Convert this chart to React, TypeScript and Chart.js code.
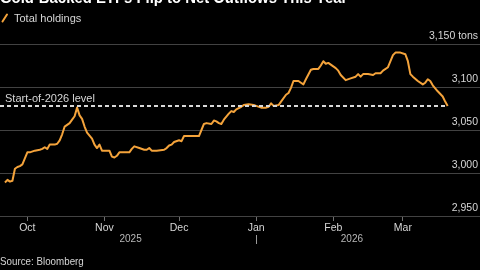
import React, { useEffect, useRef } from "react";
import { Chart, registerables } from "chart.js";

Chart.register(...registerables);

const TITLE = "Gold-Backed ETFs Flip to Net Outflows This Year";
const SERIES_LABEL = "Total holdings";
const SOURCE = "Source: Bloomberg";
const LEVEL_LABEL = "Start-of-2026 level";
const START_LEVEL = 3078;
const Y_UNIT = "tons";

const DATES = [
  "2025-09-22", "2025-09-23", "2025-09-24", "2025-09-25", "2025-09-26", "2025-09-27", "2025-09-28", "2025-09-29", "2025-09-30",
  "2025-10-01", "2025-10-02", "2025-10-04", "2025-10-06", "2025-10-07", "2025-10-08", "2025-10-09", "2025-10-10", "2025-10-12",
  "2025-10-13", "2025-10-14", "2025-10-15", "2025-10-16", "2025-10-18", "2025-10-19", "2025-10-20", "2025-10-21", "2025-10-22",
  "2025-10-23", "2025-10-24", "2025-10-25", "2025-10-27", "2025-10-28", "2025-10-29", "2025-10-30", "2025-10-31",
  "2025-11-01", "2025-11-03", "2025-11-04", "2025-11-05", "2025-11-06", "2025-11-07", "2025-11-09", "2025-11-11", "2025-11-12",
  "2025-11-13", "2025-11-15", "2025-11-17", "2025-11-18", "2025-11-19", "2025-11-20", "2025-11-22", "2025-11-25", "2025-11-26",
  "2025-11-27", "2025-11-28", "2025-11-29",
  "2025-12-01", "2025-12-02", "2025-12-03", "2025-12-05", "2025-12-07", "2025-12-09", "2025-12-10", "2025-12-11", "2025-12-12",
  "2025-12-14", "2025-12-15", "2025-12-16", "2025-12-17", "2025-12-18", "2025-12-19", "2025-12-21", "2025-12-22", "2025-12-23",
  "2025-12-24", "2025-12-26", "2025-12-27", "2025-12-29", "2025-12-31",
  "2026-01-01", "2026-01-03", "2026-01-05", "2026-01-06", "2026-01-07", "2026-01-08", "2026-01-10", "2026-01-11", "2026-01-13",
  "2026-01-14", "2026-01-15", "2026-01-16", "2026-01-18", "2026-01-19", "2026-01-20", "2026-01-21", "2026-01-23", "2026-01-24",
  "2026-01-26", "2026-01-27", "2026-01-28", "2026-01-29", "2026-01-30", "2026-01-31",
  "2026-02-02", "2026-02-03", "2026-02-04", "2026-02-06", "2026-02-08", "2026-02-10", "2026-02-11", "2026-02-12", "2026-02-13",
  "2026-02-15", "2026-02-17", "2026-02-18", "2026-02-20", "2026-02-21", "2026-02-23", "2026-02-24", "2026-02-25", "2026-02-26",
  "2026-02-28",
  "2026-03-02", "2026-03-03", "2026-03-04", "2026-03-05", "2026-03-07", "2026-03-09", "2026-03-10", "2026-03-11", "2026-03-12",
  "2026-03-13", "2026-03-15", "2026-03-17", "2026-03-18", "2026-03-19",
];

const HOLDINGS = [
  2989, 2992, 2990, 2991, 3005, 3007, 3008, 3010, 3017,
  3024, 3024, 3026, 3027, 3028, 3030, 3028, 3033, 3033,
  3034, 3038, 3045, 3054, 3058, 3062, 3066, 3076, 3067,
  3063, 3054, 3047, 3040, 3033, 3029, 3033, 3026,
  3026, 3026, 3019, 3018, 3020, 3024, 3024, 3024, 3028,
  3031, 3029, 3027, 3027, 3029, 3026, 3026, 3027, 3029,
  3032, 3033, 3036,
  3038, 3037, 3043, 3043, 3043, 3043, 3050, 3057, 3058,
  3057, 3061, 3060, 3058, 3057, 3062, 3069, 3072, 3071,
  3074, 3077, 3079, 3080, 3079,
  3078, 3076, 3076, 3077, 3081, 3078, 3079, 3083, 3091,
  3093, 3099, 3107, 3107, 3105, 3103, 3109, 3120, 3121,
  3121, 3125, 3130, 3127, 3128, 3126,
  3122, 3119, 3114, 3108, 3110, 3112, 3115, 3112, 3115,
  3115, 3114, 3116, 3116, 3119, 3123, 3130, 3137, 3140,
  3140,
  3138, 3130, 3115, 3112, 3107, 3103, 3105, 3109, 3107,
  3102, 3095, 3089, 3083, 3078,
];

const MONTH_TICKS = ["2025-10-01", "2025-11-01", "2025-12-01", "2026-01-01", "2026-02-01", "2026-03-01"];
const MONTH_LABELS = ["Oct", "Nov", "Dec", "Jan", "Feb", "Mar"];
const YEAR_LABELS = ["2025", "2026"];
const YEAR_BREAK = "2026-01-01";
const X_RANGE = ["2025-09-20", "2026-04-01"];
const Y_TICKS = [2950, 3000, 3050, 3100, 3150];
const Y_RANGE = [2950, 3175];

const ORANGE = "#f4a33b";
const GRID = "#424242";
const TEXT = "#d6d6d6";
const FONT = "'Liberation Sans', Arial, sans-serif";

const EPOCH = Date.UTC(2025, 9, 1);
function dayOf(s: string): number {
  const [y, m, d] = s.split("-").map(Number);
  return (Date.UTC(y, m - 1, d) - EPOCH) / 86400000;
}

function narrowText(ctx: CanvasRenderingContext2D, text: string, x: number, y: number, sx: number) {
  ctx.save();
  ctx.translate(x, y);
  ctx.scale(sx, 1);
  ctx.fillText(text, 0, 0);
  ctx.restore();
}

const overlayPlugin = {
  id: "overlay",
  afterDraw(chart: any) {
    const ctx = chart.ctx as CanvasRenderingContext2D;
    const xs = chart.scales.x;
    const ys = chart.scales.y;
    ctx.save();
    ctx.textAlign = "left";
    ctx.textBaseline = "alphabetic";

    // Title (clipped at the top, as in the reference)
    ctx.fillStyle = "#ffffff";
    ctx.font = `bold 16px ${FONT}`;
    narrowText(ctx, TITLE, 0, 3, 0.93);

    // Legend
    ctx.strokeStyle = ORANGE;
    ctx.lineWidth = 2;
    ctx.lineCap = "round";
    ctx.beginPath();
    ctx.moveTo(2.5, 21.5);
    ctx.lineTo(7, 14.5);
    ctx.stroke();
    ctx.fillStyle = TEXT;
    ctx.font = `11px ${FONT}`;
    ctx.fillText(SERIES_LABEL, 14, 22);

    // Start-of-2026 level label
    const ly = ys.getPixelForValue(START_LEVEL);
    ctx.font = `11px ${FONT}`;
    ctx.fillStyle = TEXT;
    ctx.fillText(LEVEL_LABEL, 5, ly - 4);

    // Year labels
    const first = xs.getPixelForValue(dayOf(DATES[0]));
    const last = xs.getPixelForValue(dayOf(DATES[DATES.length - 1]));
    const brk = xs.getPixelForValue(dayOf(YEAR_BREAK));
    ctx.font = `10px ${FONT}`;
    ctx.fillStyle = "#b8b8b8";
    ctx.textAlign = "center";
    ctx.textBaseline = "middle";
    ctx.fillText(YEAR_LABELS[0], (first + brk) / 2, 239);
    ctx.fillText(YEAR_LABELS[1], (brk + last) / 2, 239);
    ctx.strokeStyle = "#9a9a9a";
    ctx.lineWidth = 1;
    ctx.lineCap = "butt";
    ctx.beginPath();
    ctx.moveTo(Math.round(brk) + 0.5, 235);
    ctx.lineTo(Math.round(brk) + 0.5, 244);
    ctx.stroke();

    // Source
    ctx.textAlign = "left";
    ctx.textBaseline = "alphabetic";
    ctx.fillStyle = TEXT;
    ctx.font = `11px ${FONT}`;
    narrowText(ctx, SOURCE, 0, 265, 0.89);
    ctx.restore();
  },
};

export default function App() {
  const ref = useRef<HTMLCanvasElement | null>(null);

  useEffect(() => {
    if (!ref.current) return;
    const series = DATES.map((d, i) => ({ x: dayOf(d), y: HOLDINGS[i] }));
    const xMin = dayOf(X_RANGE[0]);
    const xMax = dayOf(X_RANGE[1]);
    const level = [
      { x: xMin, y: START_LEVEL },
      { x: dayOf(DATES[DATES.length - 1]), y: START_LEVEL },
    ];
    const monthDays = MONTH_TICKS.map(dayOf);

    const chart = new Chart(ref.current, {
      type: "line",
      data: {
        datasets: [
          {
            label: LEVEL_LABEL,
            data: level,
            borderColor: "#d8d8d8",
            borderWidth: 2,
            borderDash: [4, 3],
            pointRadius: 0,
            fill: false,
          },
          {
            label: SERIES_LABEL,
            data: series,
            borderColor: ORANGE,
            borderWidth: 2,
            pointRadius: 0,
            tension: 0,
            fill: false,
            borderJoinStyle: "round",
          },
        ],
      },
      options: {
        responsive: false,
        animation: false,
        layout: { padding: { top: 22.5, left: 0, right: 0, bottom: 0 } },
        plugins: {
          legend: { display: false },
          title: { display: false },
          tooltip: { enabled: false },
        },
        scales: {
          x: {
            type: "linear",
            min: xMin,
            max: xMax,
            afterBuildTicks: (s: any) => {
              s.ticks = monthDays.map((v) => ({ value: v }));
            },
            afterFit: (s: any) => {
              s.height = 54;
            },
            grid: { drawOnChartArea: false, drawTicks: true, tickLength: 5, color: "#707070" },
            border: { display: false },
            ticks: {
              color: TEXT,
              font: { family: FONT, size: 10.5 },
              padding: 1,
              maxRotation: 0,
              autoSkip: false,
              callback: (v: any) => MONTH_LABELS[monthDays.indexOf(Number(v))] ?? "",
            },
          },
          y: {
            position: "right",
            min: Y_RANGE[0],
            max: Y_RANGE[1],
            afterBuildTicks: (s: any) => {
              s.ticks = Y_TICKS.map((v) => ({ value: v }));
            },
            afterFit: (s: any) => {
              s.width = 0;
            },
            grid: { color: GRID, lineWidth: 1, drawTicks: false },
            border: { display: false },
            ticks: {
              mirror: true,
              padding: -2,
              labelOffset: -8,
              color: TEXT,
              font: { family: FONT, size: 10.5 },
              callback: (v: any) => {
                const n = Number(v);
                const s = n.toLocaleString("en-US");
                return n === Y_TICKS[Y_TICKS.length - 1] ? `${s} ${Y_UNIT}` : s;
              },
            },
          },
        },
      },
      plugins: [overlayPlugin],
    } as any);

    return () => chart.destroy();
  }, []);

  return (
    <div
      style={{
        position: "fixed",
        left: 0,
        top: 0,
        width: 480,
        height: 270,
        background: "#000",
        overflow: "hidden",
      }}
    >
      <canvas ref={ref} width={480} height={270} style={{ display: "block" }} />
    </div>
  );
}
